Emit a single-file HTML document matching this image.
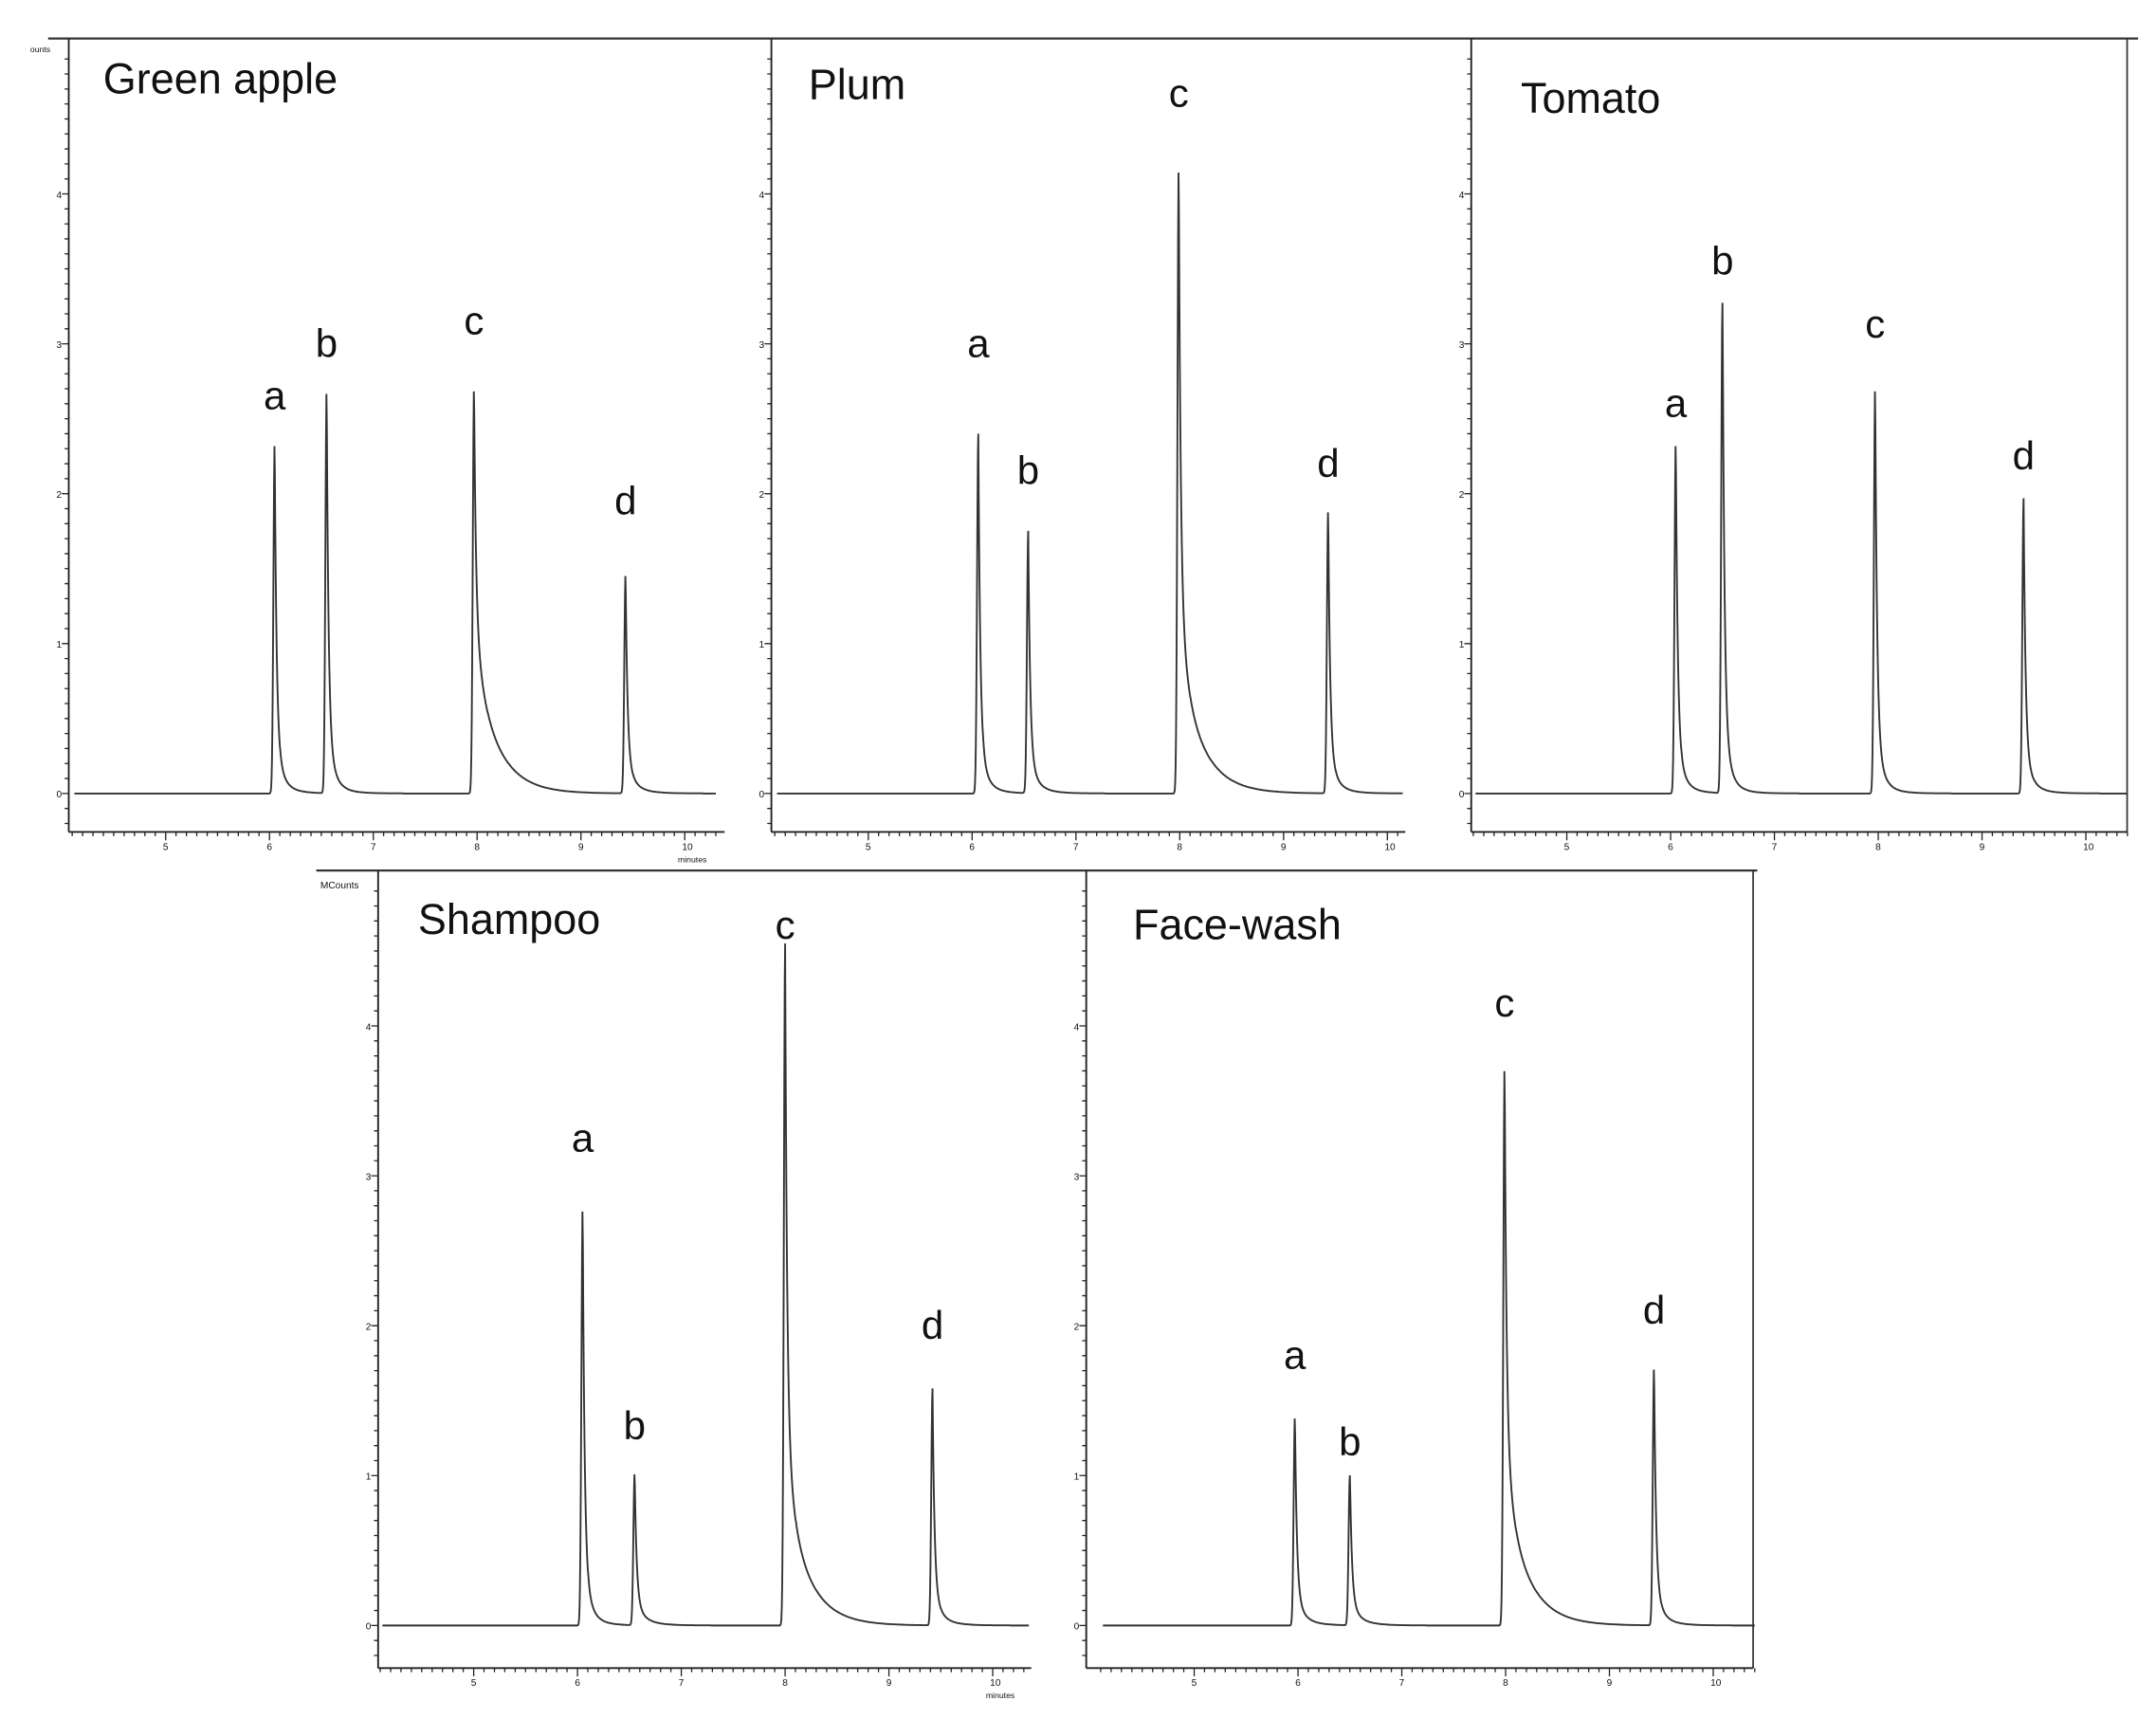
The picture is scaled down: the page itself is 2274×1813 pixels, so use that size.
<!DOCTYPE html>
<html><head><meta charset="utf-8">
<style>
html,body{margin:0;padding:0;background:#fff;}
svg{display:block;}
text{font-family:"Liberation Sans","DejaVu Sans",sans-serif;fill:#111;}
</style></head>
<body>
<svg id="s" width="2274" height="1813" viewBox="0 0 1568 1250" preserveAspectRatio="none" xmlns="http://www.w3.org/2000/svg">
<rect width="1568" height="1250" fill="#fff"/>
<g id="g"></g>
<text x="75" y="68" font-size="31">Green apple</text>
<text x="588" y="72" font-size="31">Plum</text>
<text x="1106" y="82" font-size="31">Tomato</text>
<text x="304" y="679" font-size="31">Shampoo</text>
<text x="824" y="683" font-size="31">Face-wash</text>
</svg>
<script>
var g=document.getElementById('g');var NS='http://www.w3.org/2000/svg';
function el(n,a,t){var e=document.createElementNS(NS,n);for(var k in a)e.setAttribute(k,a[k]);if(t)e.textContent=t;g.appendChild(e);return e;}
var P=[
 {ax:50,x6:196,y0:577,top:28,bot:605,right:527,t1:10.3,lab:'minutes',pk:[[6.05,2.35,'a',2.6],[6.55,2.7,'b',2.95],[7.97,2.72,'c',3.1,1],[9.43,1.47,'d',1.9]]},
 {ax:561,x6:707,y0:577,top:28,bot:605,right:1022,t1:10.15,pk:[[6.06,2.4,'a',2.95],[6.54,1.75,'b',2.1],[7.99,4.2,'c',4.62,1],[9.43,1.9,'d',2.15]]},
 {ax:1070,x6:1215,y0:577,top:28,bot:605,right:1547,t1:10.4,pk:[[6.05,2.35,'a',2.55],[6.5,3.27,'b',3.5],[7.97,2.72,'c',3.08],[9.4,1.97,'d',2.2]]},
 {ax:275,x6:420,y0:1182,top:633,bot:1213,right:750,t1:10.35,lab:'minutes',pk:[[6.05,2.8,'a',3.2],[6.55,1.02,'b',1.28],[8.0,4.55,'c',4.62,1],[9.42,1.58,'d',1.95]]},
 {ax:790,x6:944,y0:1182,top:633,bot:1213,right:1275,t1:10.4,pk:[[5.97,1.4,'a',1.75],[6.5,1.0,'b',1.17],[7.99,3.75,'c',4.1,1],[9.43,1.73,'d',2.05]]}
];
// frames
el('line',{x1:35,y1:28,x2:1555,y2:28,stroke:'#333','stroke-width':1.5});
el('line',{x1:1547,y1:28,x2:1547,y2:605,stroke:'#333','stroke-width':1.2});
el('line',{x1:230,y1:633,x2:1278,y2:633,stroke:'#333','stroke-width':1.5});
el('line',{x1:1275,y1:633,x2:1275,y2:1213,stroke:'#333','stroke-width':1.2});
el('text',{x:22,y:38,'font-size':6},'ounts');
el('text',{x:233,y:646,'font-size':7},'MCounts');
P.forEach(function(p){
 var sx=75.5,sy=109;
 var X=function(t){return p.x6+(t-6)*sx};var Y=function(v){return p.y0-v*sy};
 el('line',{x1:p.ax,y1:p.top,x2:p.ax,y2:p.bot,stroke:'#222','stroke-width':1.3});
 el('line',{x1:p.ax,y1:p.bot,x2:p.right,y2:p.bot,stroke:'#222','stroke-width':1.3});
 var d='';
 for(var v=-0.2;v<=4.9;v+=0.1){var y=Y(v);var major=Math.abs(v-Math.round(v))<0.01;
  d+='M'+(p.ax-(major?5:3))+' '+y.toFixed(1)+'h'+(major?5:3);
  if(major&&Math.round(v)>=0&&Math.round(v)<=4) el('text',{x:p.ax-9,y:y+3,'font-size':7},String(Math.round(v)));}
 for(var t=4.1;t<=p.t1;t+=0.1){var x=X(t);var major=Math.abs(t-Math.round(t))<0.01;
  d+='M'+x.toFixed(1)+' '+p.bot+'v'+(major?6:3);
  if(major) el('text',{x:x-2,y:p.bot+13,'font-size':7},String(Math.round(t)));}
 el('path',{d:d,stroke:'#222','stroke-width':0.9,fill:'none'});
 if(p.lab) el('text',{x:X(10)-5,y:p.bot+22,'font-size':6},p.lab);
 var pts=[];
 for(var t=4.12;t<=p.t1;t+=0.004){var v=0;
  p.pk.forEach(function(k){var dt=t-k[0];
   if(dt<0) v+=k[1]*Math.exp(-dt*dt/(2*0.012*0.012));
   else { v+=k[1]*Math.exp(-dt/0.018)*0.85+k[1]*0.15*Math.exp(-dt/0.06);
     if(k[4]) v+=0.9*Math.exp(-dt/0.22)*(1-Math.exp(-dt/0.02)); else v+=0.06*Math.exp(-dt/0.15)*(1-Math.exp(-dt/0.01));}
  });
  pts.push(X(t).toFixed(1)+','+Y(v).toFixed(1));}
 el('polyline',{points:pts.join(' '),fill:'none',stroke:'#333','stroke-width':1.3});
 p.pk.forEach(function(k){el('text',{x:X(k[0]),y:Y(k[3])+4,'font-size':29,'text-anchor':'middle'},k[2]);});
});
</script>
</body></html>
